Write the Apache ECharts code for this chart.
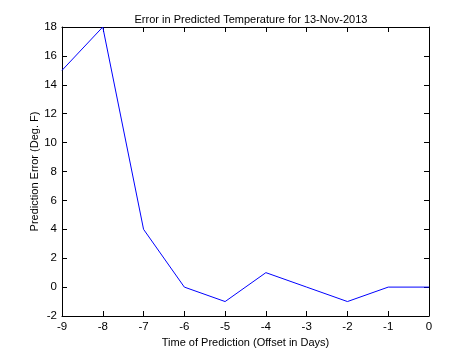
<!DOCTYPE html>
<html><head><meta charset="utf-8">
<script src="https://cdn.jsdelivr.net/npm/echarts@6/dist/echarts.min.js"></script>
<style>html,body{margin:0;padding:0;background:#fff}#c{width:474px;height:355px}</style>
</head><body><div id="c"></div>
<script>
const xDays = [-9, -8, -7, -6, -5, -4, -3, -2, -1, 0];
const errors = [15, 18, 4, 0, -1, 1, 0, -1, 0, 0];
const titleText = 'Error in Predicted Temperature for 13-Nov-2013';
const xLabel = 'Time of Prediction (Offset in Days)';
const yLabel = 'Prediction Error (Deg. F)';

const font = 'Liberation Sans, Arial, sans-serif';
const chart = echarts.init(document.getElementById('c'));
const axisLine = {show: true, onZero: false, lineStyle: {color: '#000', width: 1}};
const tick = {show: true, inside: true, length: 5, lineStyle: {color: '#000'}};
chart.setOption({
  animation: false,
  title: {text: titleText, left: 246, textAlign: 'center', top: 9, textStyle: {fontFamily: font, fontSize: 11, fontWeight: 'normal', color: '#000'}},
  grid: {left: 62, right: 45, top: 27, bottom: 39},
  xAxis: [
    {type: 'value', min: -9, max: 0, interval: 1, axisLine, axisTick: tick, splitLine: {show: false},
     axisLabel: {fontFamily: font, fontSize: 11.5, color: '#000', margin: 5},
     name: xLabel, nameLocation: 'middle', nameGap: 19, nameTextStyle: {fontFamily: font, fontSize: 11, color: '#000'}},
    {type: 'value', position: 'top', min: -9, max: 0, interval: 1, axisLine, axisTick: tick, axisLabel: {show: false}, splitLine: {show: false}}
  ],
  yAxis: [
    {type: 'value', min: -2, max: 18, interval: 2, axisLine, axisTick: tick, splitLine: {show: false},
     axisLabel: {fontFamily: font, fontSize: 11.5, color: '#000', margin: 5},
     name: yLabel, nameLocation: 'middle', nameGap: 22, nameMoveOverlap: false, nameTextStyle: {fontFamily: font, fontSize: 11, color: '#000'}},
    {type: 'value', position: 'right', min: -2, max: 18, interval: 2, axisLine, axisTick: tick, axisLabel: {show: false}, splitLine: {show: false}}
  ],
  series: [{type: 'line', data: xDays.map((x, i) => [x, errors[i]]), showSymbol: false, lineStyle: {color: '#0000ff', width: 1}, clip: false}]
});
</script></body></html>
